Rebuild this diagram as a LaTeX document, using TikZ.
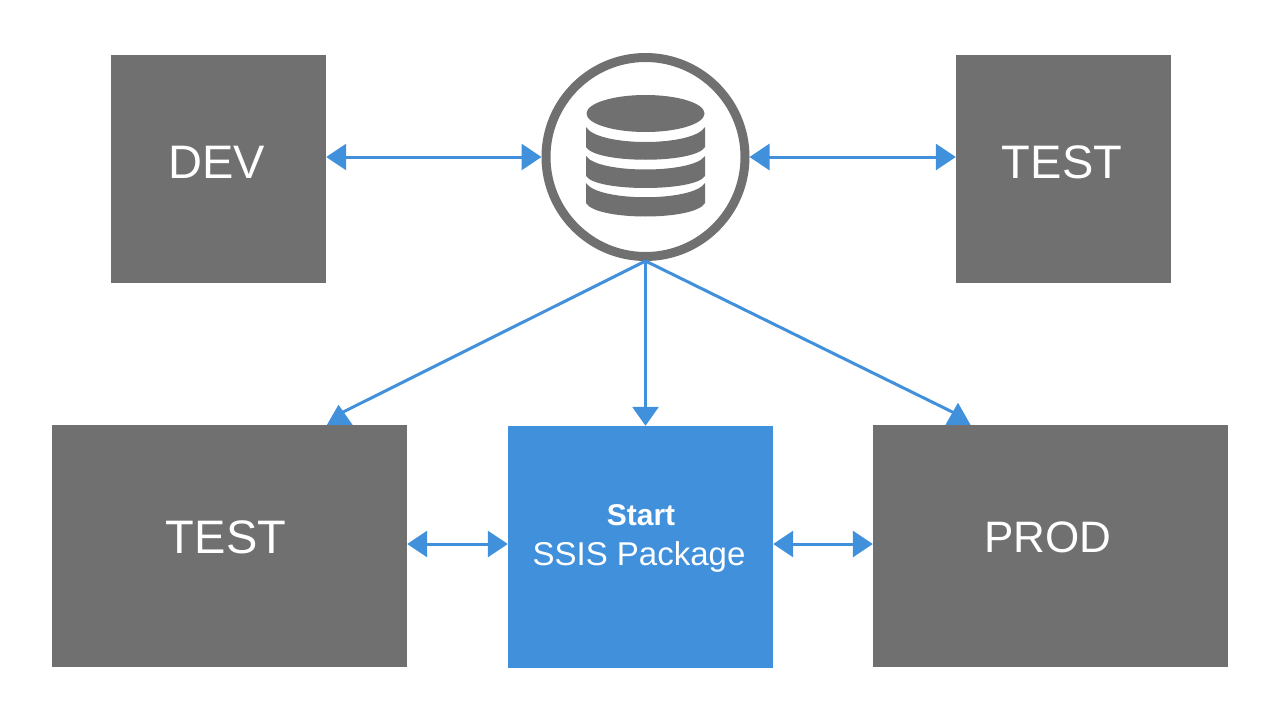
\documentclass[tikz,border=0pt]{standalone}
\usepackage{fontspec}
\setmainfont{Liberation Sans}
\usetikzlibrary{arrows.meta,calc}
\definecolor{boxgray}{HTML}{707070}
\definecolor{boxblue}{HTML}{4090DC}
\begin{document}
\begin{tikzpicture}[x=1pt,y=-1pt,
  box/.style={rectangle,fill=boxgray,inner sep=0pt},
  big/.style={text=white,font=\fontsize{47}{56}\selectfont},
  link/.style={boxblue,line width=3pt},
  two/.style={link,{Triangle[length=20pt,width=26pt]}-{Triangle[length=20pt,width=26pt]}},
  one/.style={link,-{Triangle[length=19pt,width=26pt]}},
  disk/.style={fill=boxgray}]
\useasboundingbox[fill=white] (0,0) rectangle (1280,720);
\node[box,minimum width=215pt,minimum height=228pt] (dev) at (218.5,169) {};
\node[box,minimum width=215pt,minimum height=228pt] (testa) at (1063.5,169) {};
\node[box,minimum width=355pt,minimum height=242pt] (testb) at (229.5,546) {};
\node[box,minimum width=355pt,minimum height=242pt] (prod) at (1050.5,546) {};
\node[rectangle,fill=boxblue,inner sep=0pt,minimum width=265pt,minimum height=242pt] (start) at (640.5,547) {};
\node[big] (devt) at (217,162) {DEV};
\node[big] (testat) at (1062,162) {TEST};
\node[big] (testbt) at (226,537) {TEST};
\node[big,font=\fontsize{44}{56}\selectfont] (prodt) at (1048,537) {PROD};
\node[text=white,font=\bfseries\fontsize{30}{36}\selectfont] (startt) at (641,515) {Start};
\node[text=white,font=\fontsize{33}{40}\selectfont] (ssis) at (639,557) {SSIS Package};
\node[circle,draw=boxgray,line width=9pt,fill=white,minimum size=199pt,inner sep=0pt] (hub) at (645.5,157) {};
\fill[disk] (645.5,113.5) ellipse [x radius=59,y radius=18.5];
\fill[disk] (586,127) .. controls (598,147) and (693,147) .. (705,127) -- (705,147) .. controls (695,164) and (596,164) .. (586,147) -- cycle;
\fill[disk] (586,156) .. controls (598,174) and (693,174) .. (705,156) -- (705,176) .. controls (695,192) and (596,192) .. (586,176) -- cycle;
\fill[disk] (586,183) .. controls (598,202) and (693,202) .. (705,183) -- (705,203) .. controls (695,221) and (596,221) .. (586,203) -- cycle;
\coordinate (la) at ([xshift=112pt,yshift=12pt]testb.north);
\coordinate (ra) at ([xshift=-96.5pt,yshift=12pt]prod.north);
\draw[two] (dev.east |- hub.west) -- (hub.west);
\draw[two] (hub.east) -- (testa.west |- hub.east);
\draw[two] ([yshift=2pt]testb.east) -- ([yshift=3pt]start.west);
\draw[two] ([yshift=3pt]start.east) -- ([yshift=2pt]prod.west);
\draw[one] (hub.south) -- (start.north -| hub.south);
\draw[link] (hub.south) -- (la);
\draw[link] (hub.south) -- (ra);
\fill[boxblue] ([xshift=97.5pt]testb.north) -- ([xshift=109pt,yshift=20pt]testb.north) -- ([xshift=123pt]testb.north) -- cycle;
\fill[boxblue] ([xshift=-105pt]prod.north) -- ([xshift=-92.5pt,yshift=22pt]prod.north) -- ([xshift=-80pt]prod.north) -- cycle;
\end{tikzpicture}
\end{document}
